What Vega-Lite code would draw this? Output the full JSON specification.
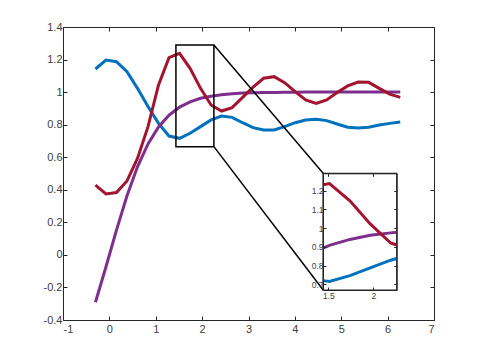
{
"$schema": "https://vega.github.io/schema/vega-lite/v6.json",
"width": 371, "height": 293,
"autosize": {"type": "none"},
"padding": {"left": 63, "top": 27, "right": 46, "bottom": 40},
"background": "white",
"config": {"view": {"stroke": null}, "axis": {"grid": false, "labelFont": "Liberation Sans", "domainColor": "#262626", "tickColor": "#262626", "labelColor": "#404040", "title": null}},
"datasets": {
"curves": [
{"s":"blue","x":-0.3,"y":1.142},{"s":"blue","x":-0.073,"y":1.197},{"s":"blue","x":0.153,"y":1.187},{"s":"blue","x":0.38,"y":1.126},{"s":"blue","x":0.606,"y":1.023},{"s":"blue","x":0.833,"y":0.911},{"s":"blue","x":1.06,"y":0.808},{"s":"blue","x":1.286,"y":0.73},{"s":"blue","x":1.513,"y":0.716},{"s":"blue","x":1.74,"y":0.747},{"s":"blue","x":1.966,"y":0.788},{"s":"blue","x":2.193,"y":0.829},{"s":"blue","x":2.419,"y":0.853},{"s":"blue","x":2.646,"y":0.845},{"s":"blue","x":2.873,"y":0.812},{"s":"blue","x":3.099,"y":0.782},{"s":"blue","x":3.326,"y":0.767},{"s":"blue","x":3.553,"y":0.767},{"s":"blue","x":3.779,"y":0.788},{"s":"blue","x":4.006,"y":0.812},{"s":"blue","x":4.232,"y":0.829},{"s":"blue","x":4.459,"y":0.833},{"s":"blue","x":4.686,"y":0.825},{"s":"blue","x":4.912,"y":0.804},{"s":"blue","x":5.139,"y":0.784},{"s":"blue","x":5.366,"y":0.78},{"s":"blue","x":5.592,"y":0.784},{"s":"blue","x":5.819,"y":0.798},{"s":"blue","x":6.046,"y":0.808},{"s":"blue","x":6.272,"y":0.816},
{"s":"purple","x":-0.3,"y":-0.291},{"s":"purple","x":-0.073,"y":-0.073},{"s":"purple","x":0.153,"y":0.152},{"s":"purple","x":0.38,"y":0.363},{"s":"purple","x":0.606,"y":0.541},{"s":"purple","x":0.833,"y":0.682},{"s":"purple","x":1.06,"y":0.786},{"s":"purple","x":1.286,"y":0.858},{"s":"purple","x":1.513,"y":0.908},{"s":"purple","x":1.74,"y":0.94},{"s":"purple","x":1.966,"y":0.962},{"s":"purple","x":2.193,"y":0.975},{"s":"purple","x":2.419,"y":0.984},{"s":"purple","x":2.646,"y":0.99},{"s":"purple","x":2.873,"y":0.994},{"s":"purple","x":3.099,"y":0.996},{"s":"purple","x":3.326,"y":0.997},{"s":"purple","x":3.553,"y":0.998},{"s":"purple","x":3.779,"y":0.999},{"s":"purple","x":4.006,"y":0.999},{"s":"purple","x":4.232,"y":1.0},{"s":"purple","x":4.459,"y":1.0},{"s":"purple","x":4.686,"y":1.0},{"s":"purple","x":4.912,"y":1.0},{"s":"purple","x":5.139,"y":1.0},{"s":"purple","x":5.366,"y":1.0},{"s":"purple","x":5.592,"y":1.0},{"s":"purple","x":5.819,"y":1.0},{"s":"purple","x":6.046,"y":1.0},{"s":"purple","x":6.272,"y":1.0},
{"s":"red","x":-0.3,"y":0.429},{"s":"red","x":-0.073,"y":0.374},{"s":"red","x":0.153,"y":0.383},{"s":"red","x":0.38,"y":0.454},{"s":"red","x":0.606,"y":0.593},{"s":"red","x":0.833,"y":0.788},{"s":"red","x":1.06,"y":1.044},{"s":"red","x":1.286,"y":1.212},{"s":"red","x":1.513,"y":1.238},{"s":"red","x":1.74,"y":1.146},{"s":"red","x":1.966,"y":1.023},{"s":"red","x":2.193,"y":0.921},{"s":"red","x":2.419,"y":0.884},{"s":"red","x":2.646,"y":0.905},{"s":"red","x":2.873,"y":0.968},{"s":"red","x":3.099,"y":1.03},{"s":"red","x":3.326,"y":1.085},{"s":"red","x":3.553,"y":1.095},{"s":"red","x":3.779,"y":1.058},{"s":"red","x":4.006,"y":1.003},{"s":"red","x":4.232,"y":0.952},{"s":"red","x":4.459,"y":0.931},{"s":"red","x":4.686,"y":0.952},{"s":"red","x":4.912,"y":0.997},{"s":"red","x":5.139,"y":1.038},{"s":"red","x":5.366,"y":1.062},{"s":"red","x":5.592,"y":1.06},{"s":"red","x":5.819,"y":1.023},{"s":"red","x":6.046,"y":0.988},{"s":"red","x":6.272,"y":0.968}
],
"inset": [
{"s":"blue","x":1.441,"y":0.72},{"s":"blue","x":1.513,"y":0.716},{"s":"blue","x":1.74,"y":0.747},{"s":"blue","x":1.966,"y":0.788},{"s":"blue","x":2.193,"y":0.829},{"s":"blue","x":2.26,"y":0.838},
{"s":"purple","x":1.441,"y":0.894},{"s":"purple","x":1.513,"y":0.908},{"s":"purple","x":1.74,"y":0.94},{"s":"purple","x":1.966,"y":0.962},{"s":"purple","x":2.193,"y":0.975},{"s":"purple","x":2.26,"y":0.978},
{"s":"red","x":1.441,"y":1.232},{"s":"red","x":1.513,"y":1.238},{"s":"red","x":1.74,"y":1.146},{"s":"red","x":1.966,"y":1.023},{"s":"red","x":2.193,"y":0.921},{"s":"red","x":2.26,"y":0.91}
],
"zoombox": [{"x0":1.435,"x1":2.254,"y0":0.665,"y1":1.29}],
"connectors": [{"xa":2.254,"ya":1.29,"xb":4.61,"yb":0.501},{"xa":2.254,"ya":0.665,"xb":4.61,"yb":-0.216}],
"insetbox": [{"x0":1.441,"x1":2.26,"y0":0.67,"y1":1.293}]
},
"layer": [
{"data": {"name": "curves"},
 "mark": {"type": "line", "strokeWidth": 3},
 "encoding": {
  "x": {"field": "x", "type": "quantitative", "scale": {"domain": [-1, 7], "nice": false, "zero": false},
        "axis": {"orient": "bottom", "values": [-1,0,1,2,3,4,5,6,7], "tickSize": -4, "labelPadding": 7, "labelFontSize": 11, "labelExpr": "'' + datum.value"}},
  "y": {"field": "y", "type": "quantitative", "scale": {"domain": [-0.4, 1.4], "nice": false, "zero": false},
        "axis": {"orient": "left", "values": [-0.4,-0.2,0,0.2,0.4,0.6,0.8,1,1.2,1.4], "tickSize": -4, "labelPadding": 5, "labelFontSize": 11, "labelExpr": "'' + datum.value"}},
  "color": {"field": "s", "type": "nominal", "scale": {"domain": ["blue","purple","red"], "range": ["#0072BD","#7E2F8E","#A2142F"]}, "legend": null}
 }},
{"data": {"name": "zoombox"},
 "mark": {"type": "rect", "fillOpacity": 0, "stroke": "black", "strokeWidth": 1.5},
 "encoding": {
  "x": {"field": "x0", "type": "quantitative", "scale": {"domain": [-1, 7], "nice": false, "zero": false},
        "axis": {"orient": "top", "values": [-1,0,1,2,3,4,5,6,7], "tickSize": -4, "labels": false}},
  "x2": {"field": "x1"},
  "y": {"field": "y0", "type": "quantitative", "scale": {"domain": [-0.4, 1.4], "nice": false, "zero": false},
        "axis": {"orient": "right", "values": [-0.4,-0.2,0,0.2,0.4,0.6,0.8,1,1.2,1.4], "tickSize": -4, "labels": false}},
  "y2": {"field": "y1"}
 }},
{"data": {"name": "connectors"},
 "mark": {"type": "rule", "color": "black", "strokeWidth": 1.5},
 "encoding": {
  "x": {"field": "xa", "type": "quantitative", "scale": {"domain": [-1, 7], "nice": false, "zero": false}, "axis": null},
  "x2": {"field": "xb"},
  "y": {"field": "ya", "type": "quantitative", "scale": {"domain": [-0.4, 1.4], "nice": false, "zero": false}, "axis": null},
  "y2": {"field": "yb"}
 }},
{"data": {"name": "insetbox"},
 "mark": {"type": "rect", "fill": "white", "stroke": "#262626", "strokeWidth": 1.2},
 "encoding": {
  "x": {"field": "x0", "type": "quantitative", "scale": {"domain": [1.441, 2.26], "range": [260, 333.7], "nice": false, "zero": false},
        "axis": {"orient": "top", "values": [1.5, 2], "tickSize": -3, "labels": false, "offset": -146.3, "zindex": 1}},
  "x2": {"field": "x1"},
  "y": {"field": "y0", "type": "quantitative", "scale": {"domain": [0.67, 1.293], "range": [263, 146.3], "nice": false, "zero": false},
        "axis": {"orient": "right", "values": [0.7,0.8,0.9,1,1.1,1.2], "tickSize": -3, "labels": false, "offset": -37.3, "zindex": 1}},
  "y2": {"field": "y1"}
 }},
{"data": {"name": "inset"},
 "mark": {"type": "line", "strokeWidth": 3},
 "encoding": {
  "x": {"field": "x", "type": "quantitative", "scale": {"domain": [1.441, 2.26], "range": [260, 333.7], "nice": false, "zero": false},
        "axis": {"orient": "bottom", "values": [1.5, 2], "tickSize": -3, "labelPadding": 4, "labelFontSize": 8.5, "offset": -30, "zindex": 1, "labelExpr": "'' + datum.value"}},
  "y": {"field": "y", "type": "quantitative", "scale": {"domain": [0.67, 1.293], "range": [263, 146.3], "nice": false, "zero": false},
        "axis": {"orient": "left", "values": [0.7,0.8,0.9,1,1.1,1.2], "tickSize": -3, "labelPadding": 3, "labelFontSize": 8.5, "offset": -260, "zindex": 1, "labelExpr": "'' + datum.value"}},
  "color": {"field": "s", "type": "nominal", "scale": {"domain": ["blue","purple","red"], "range": ["#0072BD","#7E2F8E","#A2142F"]}, "legend": null}
 }}
],
"resolve": {"scale": {"x": "independent", "y": "independent"}, "axis": {"x": "independent", "y": "independent"}}
}
